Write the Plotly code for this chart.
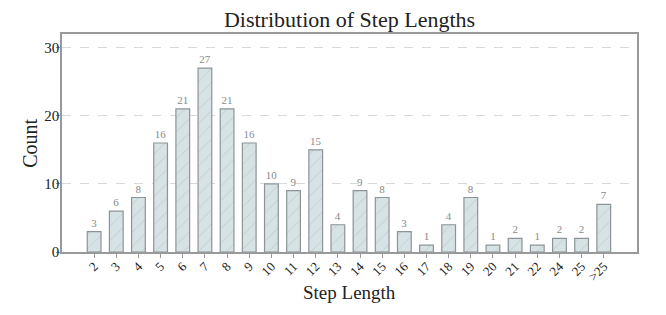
import plotly.graph_objects as go

categories = ["2","3","4","5","6","7","8","9","10","11","12","13","14","15","16","17","18","19","20","21","22","24","25",">25"]
counts = [3,6,8,16,21,27,21,16,10,9,15,4,9,8,3,1,4,8,1,2,1,2,2,7]
y_ticks = [0,10,20,30]

font_family = "Palatino, 'Palatino Linotype', 'Liberation Serif', serif"

fig = go.Figure()
fig.add_trace(go.Bar(
    x=list(range(len(categories))),
    y=counts,
    width=0.62,
    marker=dict(
        color="#d7e2e4",
        line=dict(color="#8c9498", width=1.2),
        pattern=dict(shape="/", fgcolor="#a9b3b6", bgcolor="#d7e2e4", size=10, solidity=0.08),
    ),
    text=[str(c) for c in counts],
    textposition="outside",
    textfont=dict(family=font_family, size=11, color="#8a8a8a"),
    cliponaxis=False,
))

fig.update_layout(
    width=666, height=315,
    margin=dict(l=62, r=29, t=34, b=63),
    paper_bgcolor="white", plot_bgcolor="white",
    font=dict(family=font_family, color="#222"),
    title=dict(text="Distribution of Step Lengths", xref="paper", x=0.5, xanchor="center", y=0.94, yanchor="middle",
               font=dict(size=22, family=font_family, color="#222")),
    showlegend=False,
    annotations=[
        dict(text="Step Length", xref="paper", yref="paper", x=0.5, y=-0.185, xanchor="center", yanchor="middle",
             showarrow=False, font=dict(size=19, family=font_family, color="#222")),
        dict(text="Count", xref="paper", yref="paper", x=-0.056, y=0.5, xanchor="center", yanchor="middle",
             textangle=-90, showarrow=False, font=dict(size=20, family=font_family, color="#222")),
    ],
)
fig.update_xaxes(
    tickmode="array", tickvals=list(range(len(categories))), ticktext=categories,
    tickangle=-45, range=[-1.45, 24.5], automargin=False,
    showline=True, linecolor="#999", linewidth=1.5, mirror=True,
    ticks="outside", ticklen=4, tickcolor="#999", ticklabelstandoff=-4,
    showgrid=False, zeroline=False,
    tickfont=dict(size=13, family=font_family, color="#222"),
)
fig.update_yaxes(
    range=[0, 32], tickmode="array", tickvals=y_ticks, automargin=False,
    showline=True, linecolor="#999", linewidth=1.5, mirror=True,
    ticks="outside", ticklen=4, tickcolor="#999", ticklabelstandoff=-6,
    showgrid=True, gridcolor="#d8d8d8", griddash="dash", gridwidth=1,
    zeroline=False,
    tickfont=dict(size=15, family=font_family, color="#222"),
)

fig.write_html("out.html")
